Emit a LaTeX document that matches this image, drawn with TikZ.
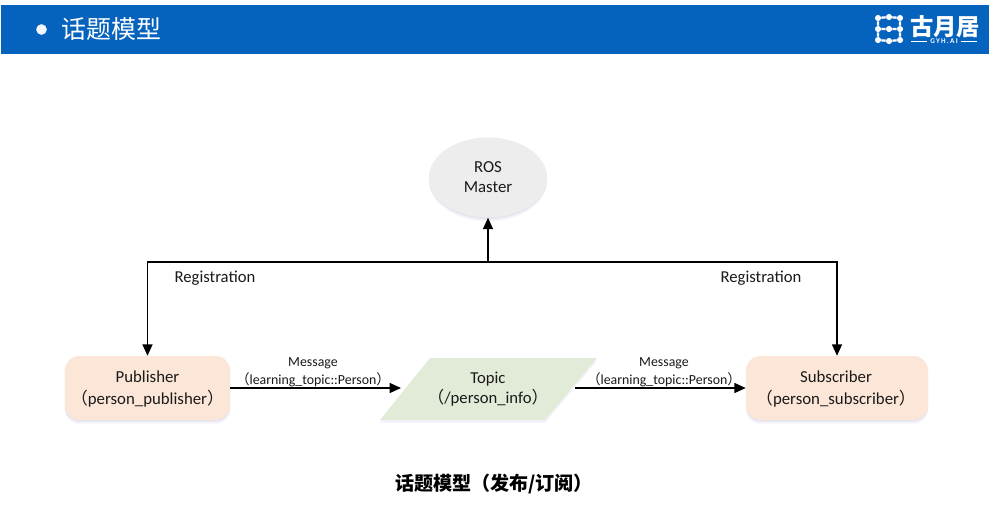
\documentclass[tikz,border=0pt]{standalone}
\usepackage{fontspec}
\setmainfont{Carlito}
\newfontfamily\cjk{Noto Sans CJK SC}
\usetikzlibrary{shapes.geometric,shadows,arrows.meta}
\definecolor{hdr}{HTML}{0563BE}
\definecolor{peach}{HTML}{FCE6D8}
\definecolor{sage}{HTML}{E2EBD8}
\definecolor{mist}{HTML}{EDEDED}
\definecolor{inkc}{HTML}{1A1A1A}
\newcommand{\lp}{{\cjk（}}
\newcommand{\rp}{{\cjk）}}
\tikzset{
  softshadow/.style={
    general shadow={fill=blue!30!gray,opacity=.04,shadow xshift=0pt,shadow yshift=-3pt},
    general shadow={fill=blue!30!gray,opacity=.05,shadow xshift=0pt,shadow yshift=-2pt},
    general shadow={fill=blue!30!gray,opacity=.07,shadow xshift=0pt,shadow yshift=-1pt}},
  box/.style={rounded corners=11pt,fill=peach,softshadow,align=center,text=inkc,
    font=\fontsize{12.6pt}{16.5pt}\selectfont,minimum height=48pt,inner sep=0pt},
  boxlabel/.style={align=center,text=inkc,inner sep=0pt,font=\fontsize{12.6pt}{16.5pt}\selectfont},
  conn/.style={draw=black,line width=0.9pt,-{Triangle[length=8.5pt,width=7.5pt]}},
  smalllabel/.style={align=center,text=inkc,font=\fontsize{10.4pt}{13.5pt}\selectfont,inner sep=0pt},
  reglabel/.style={text=inkc,font=\fontsize{12.5pt}{14pt}\selectfont,inner sep=0pt},
  logoline/.style={draw=white,line width=1.7pt},
  logodot/.style={circle,fill=white,inner sep=0pt,minimum size=4.6pt}
}
\begin{document}
\begin{tikzpicture}[x=0.75pt,y=-0.75pt]
\useasboundingbox (0,0) rectangle (989,508);
\fill[white] (0,0) rectangle (989,508);
\fill[hdr] (1,5) rectangle (989,54);
% header
\node[circle,fill=white!95!hdr,inner sep=0pt,minimum size=8pt] (bullet) at (41.5,29.5) {};
\node[anchor=west,text=white,inner sep=0pt,font=\cjk\fontsize{18.7pt}{20pt}\selectfont] (title) at (61.5,29.5) {话题模型};
% logo
\foreach \n/\x/\y in {a/878/18,b/889/17,c/900/18,d/878/29,e/889/29,f/900/29,g/878/40,h/889/41,i/900/40}
  \node[logodot] (\n) at (\x,\y) {};
\draw[logoline] (a) -- (b) -- (c) (d) -- (e) -- (f) (g) -- (h) -- (i) (a) -- (d) -- (g) (c) -- (f) -- (i);
\node[text=white,inner sep=0pt,font=\cjk\fontsize{17.5pt}{19pt}\selectfont\bfseries] (logotext) at (945,27) {古月居};
\node[text=white,inner sep=0pt,font=\fontsize{5.4pt}{6pt}\selectfont\bfseries\addfontfeature{LetterSpace=18}] (logosub) at (944,41.5) {GYH.AI};
\coordinate (subl) at (911,41.5);
\coordinate (subr) at (977,41.5);
\draw[white,line width=0.6pt] (subl) -- ([xshift=-2pt]logosub.west) ([xshift=2pt]logosub.east) -- (subr);
% master
\node[ellipse,fill=mist,softshadow,minimum width=88.5pt,minimum height=60pt,inner sep=0pt,align=center,
  text=inkc,font=\fontsize{12.6pt}{15pt}\selectfont] (master) at (488,177.5) {ROS\\Master};
% publisher and subscriber
\node[box,minimum width=124pt] (pub) at (147.5,388) {};
\node[box,minimum width=136.5pt] (sub) at (837,388) {};
\node[boxlabel] (publabel) at (147.5,389) {Publisher\\\lp person\_publisher\rp};
\node[boxlabel] (sublabel) at (836,389) {Subscriber\\\lp person\_subscriber\rp};
% topic
\fill[blue!30!gray,opacity=.08] (430,360.5) -- (597,360.5) -- (545,422.5) -- (380,422.5) -- cycle;
\fill[sage] (430,358) -- (597,358) -- (545,420) -- (380,420) -- cycle;
\node[align=center,text=inkc,inner sep=0pt,font=\fontsize{12.5pt}{15pt}\selectfont] (topic) at (488,389) {Topic\\\lp /person\_info\rp};
\coordinate (topicin) at (401,388);
\coordinate (topicout) at (575,388);
% connectors
\coordinate (junction) at (488,262);
\coordinate (regl) at (pub.north |- junction);
\coordinate (regr) at (sub.north |- junction);
\draw[conn] (junction) -- (master.south);
\draw[conn] (junction) -- (regl) -- (pub.north);
\draw[conn] (junction) -- (regr) -- (sub.north);
\draw[conn] (pub.east |- topicin) -- (topicin);
\draw[conn] (topicout) -- (sub.west |- topicout);
% labels
\node[reglabel] (regla) at (215,278.5) {Registration};
\node[reglabel] (reglb) at (761,278.5) {Registration};
\node[smalllabel] (msga) at (313,372) {Message\\\lp learning\_topic::Person\rp};
\node[smalllabel] (msgb) at (664,372) {Message\\\lp learning\_topic::Person\rp};
\node[inner sep=0pt,text=black,font=\cjk\fontsize{14.3pt}{15pt}\selectfont\bfseries] (caption) at (494,484) {话题模型（发布/订阅）};
\end{tikzpicture}
\end{document}
